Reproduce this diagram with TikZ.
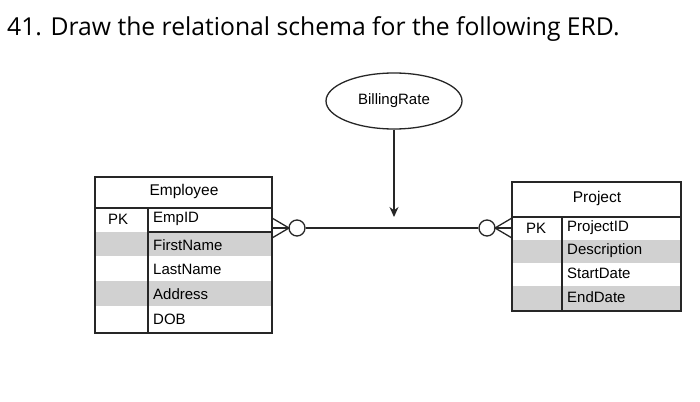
\documentclass[tikz,border=0pt]{standalone}
\usepackage{fontspec}
\usetikzlibrary{shapes.geometric,arrows.meta}
\setmainfont{Liberation Sans}
\newfontfamily\titlefont{Open Sans}
\begin{document}
\begin{tikzpicture}[x=1pt,y=-1pt,
  ln/.style={line width=1.3pt,draw=black!85},
  shade/.style={fill=black!18},
  txt/.style={font=\fontsize{15}{17}\selectfont,anchor=west,inner sep=0pt},
  hd/.style={font=\fontsize{15.5}{17}\selectfont,inner sep=0pt}]
\useasboundingbox (0,0) rectangle (700,401);
\node[anchor=west,inner sep=0pt,font=\titlefont\fontsize{24.7}{28}\selectfont] (title) at (7,29) {41. Draw the relational schema for the following ERD.};
% Employee
\fill[shade] (148,232) rectangle (272,256);
\fill[shade] (95,232) rectangle (148,256);
\fill[shade] (148,281) rectangle (272,306);
\fill[shade] (95,281) rectangle (148,306);
\draw[ln] (95,177) rectangle (272,333);
\draw[ln] (95,208) -- (272,208);
\draw[ln] (148,208) -- (148,333);
\draw[ln] (148,232) -- (272,232);
\node[hd] (ehd) at (184,191) {Employee};
\node[txt] (epk) at (108,219) {PK};
\node[txt] (e1) at (153,219) {EmpID};
\node[txt] (e2) at (153,245) {FirstName};
\node[txt] (e3) at (153,269) {LastName};
\node[txt] (e4) at (153,294) {Address};
\node[txt] (e5) at (153,319) {DOB};
% Project
\fill[shade] (562,240) rectangle (681,263);
\fill[shade] (512,240) rectangle (562,263);
\fill[shade] (562,286) rectangle (681,311);
\fill[shade] (512,286) rectangle (562,311);
\draw[ln] (512,182) rectangle (681,311);
\draw[ln] (512,217) -- (681,217);
\draw[ln] (562,217) -- (562,311);
\node[hd] (phd) at (597,198) {Project};
\node[txt] (ppk) at (526,228) {PK};
\node[txt] (p1) at (567,228) {ProjectID};
\node[txt] (p2) at (567,251) {Description};
\node[txt] (p3) at (567,273) {StartDate};
\node[txt] (p4) at (567,297) {EndDate};
% relationship
\coordinate (la) at (272,228);
\coordinate (ra) at (512,228);
\node[circle,ln,minimum size=16pt,inner sep=0pt,fill=white] (c1) at (297,228) {};
\node[circle,ln,minimum size=16pt,inner sep=0pt,fill=white] (c2) at (487,228) {};
\draw[ln] (c1) -- (c2);
\draw[ln] (272,218) -- (289,228) -- (272,238);
\draw[ln] (la) -- (c1.west);
\draw[ln] (512,218) -- (495,228) -- (512,238);
\draw[ln] (ra) -- (c2.east);
% attribute
\node[ellipse,ln,minimum width=136pt,minimum height=56pt,inner sep=0pt,font=\fontsize{15}{17}\selectfont] (br) at (394,101) {BillingRate};
\coordinate (arr) at (394,217);
\draw[ln,-{Stealth[length=10pt,width=9pt]}] (br.south) -- (arr);
\end{tikzpicture}
\end{document}
